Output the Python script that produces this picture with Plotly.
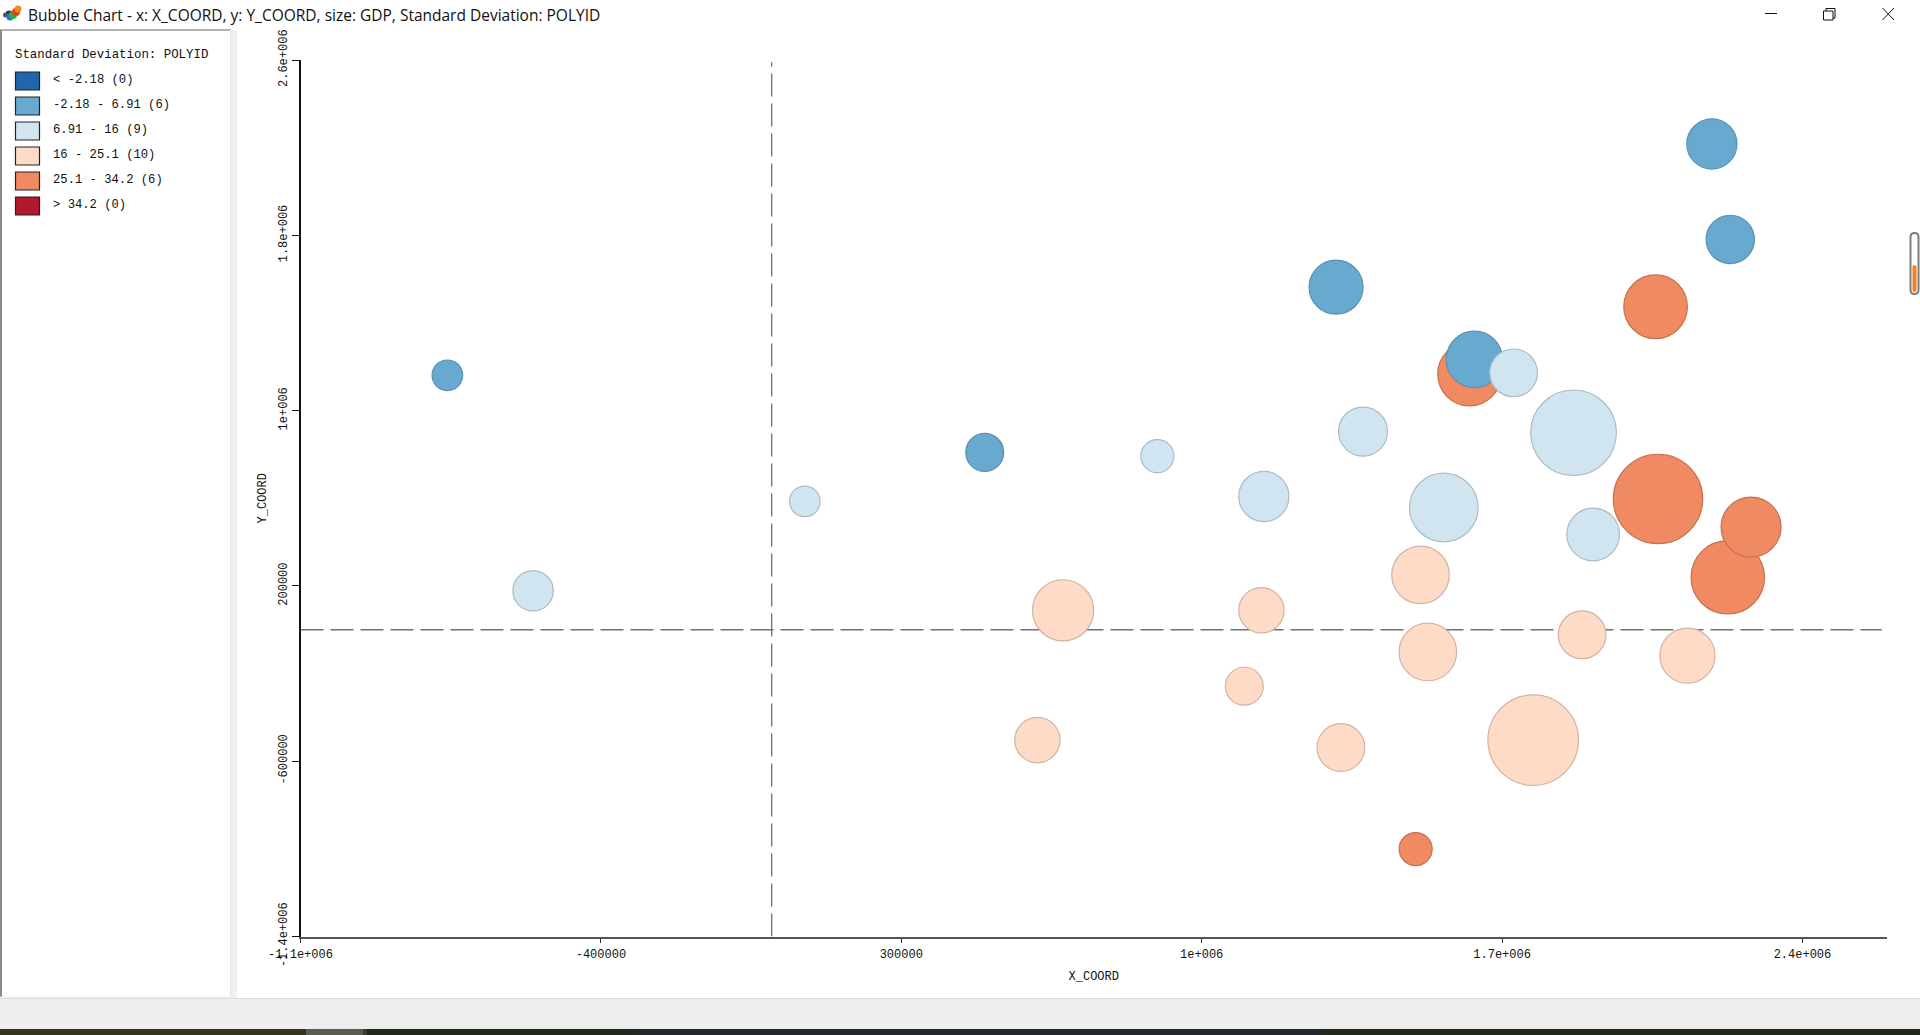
import plotly.graph_objects as go

W, H = 1920, 1035

window_title = "Bubble Chart - x: X_COORD, y: Y_COORD, size: GDP, Standard Deviation: POLYID"
legend_title = "Standard Deviation: POLYID"
legend_labels = ["< -2.18 (0)", "-2.18 - 6.91 (6)", "6.91 - 16 (9)", "16 - 25.1 (10)", "25.1 - 34.2 (6)", "> 34.2 (0)"]
legend_colors = ["#2166ac", "#67a9cf", "#d1e5f0", "#fddbc7", "#ef8a62", "#b2182b"]

x_tick_vals = [-1100000, -400000, 300000, 1000000, 1700000, 2400000]
x_tick_text = ["-1.1e+006", "-400000", "300000", "1e+006", "1.7e+006", "2.4e+006"]
y_tick_vals = [-1400000, -600000, 200000, 1000000, 1800000, 2600000]
y_tick_text = ["-1.4e+006", "-600000", "200000", "1e+006", "1.8e+006", "2.6e+006"]

mean_x = -2000
mean_y = 0

blue_x = [2188900, 2231700, 1313200, 1635500, -757700, 494500]
blue_y = [2216900, 1781200, 1563300, 1233700, 1161000, 809100]
blue_gdp = [16800, 15600, 19400, 21200, 6250, 9600]

light_x = [1726800, 1376000, 1866600, 896800, 75200, 1144900, 1564200, 1912200, -558000]
light_y = [1172200, 904100, 898500, 792300, 585600, 608000, 557700, 434800, 177800]
light_gdp = [15200, 16000, 49000, 7300, 6250, 16800, 31400, 18500, 10900]

peach_x = [1510000, 677100, 1139200, 1886600, 1527100, 2131900, 1099300, 617200, 1324600, 1772500]
peach_y = [250400, 88400, 88400, -23300, -101500, -118300, -257900, -503800, -537300, -503800]
peach_gdp = [22100, 25000, 13700, 15200, 22100, 20300, 9600, 13700, 15200, 54800]

orange_x = [2057700, 1624100, 2063400, 2226000, 2280200, 1498600]
orange_y = [1473900, 1166600, 596800, 239300, 468300, -1001000]
orange_gdp = [27000, 27000, 53300, 36000, 24000, 7300]

MONO = "Liberation Mono"
TEXT = "#111111"


def px(v):
    return v / W


def py(v):
    return 1 - v / H


def rect(x0, y0, x1, y1, fill, line=None, lw=1, layer="below"):
    return dict(type="rect", xref="paper", yref="paper", layer=layer,
                x0=px(x0), x1=px(x1), y0=py(y0), y1=py(y1), fillcolor=fill,
                line=dict(color=line, width=lw) if line else dict(width=0))


def seg(x0, y0, x1, y1, color, lw=1.2):
    return dict(type="line", xref="paper", yref="paper",
                x0=px(x0), x1=px(x1), y0=py(y0), y1=py(y1),
                line=dict(color=color, width=lw))


def dot(cx, cy, r, fill):
    return dict(type="circle", xref="paper", yref="paper",
                x0=px(cx - r), x1=px(cx + r), y0=py(cy - r), y1=py(cy + r),
                fillcolor=fill, line=dict(width=0))


def pill(x0, y0, x1, y1, r, fill, line=None, lw=1):
    a, b, c, d = px(x0), px(x1), py(y0), py(y1)
    ym0, ym1 = py(y0 + r), py(y1 - r)
    xm = (a + b) / 2
    path = (f"M {a} {ym0} Q {a} {c} {xm} {c} Q {b} {c} {b} {ym0} "
            f"L {b} {ym1} Q {b} {d} {xm} {d} Q {a} {d} {a} {ym1} Z")
    return dict(type="path", xref="paper", yref="paper", path=path, fillcolor=fill,
                line=dict(color=line, width=lw) if line else dict(width=0))


fig = go.Figure()

# mean lines sit beneath the bubbles
fig.add_trace(go.Scatter(x=[mean_x, mean_x], y=[-1400000, 2590000], mode="lines", hoverinfo="skip",
                         line=dict(color="#707070", width=1.3, dash="23px,7px")))
fig.add_trace(go.Scatter(x=[-1100000, 2585000], y=[mean_y, mean_y], mode="lines", hoverinfo="skip",
                         line=dict(color="#707070", width=1.3, dash="23px,7px")))

SIZEREF = 13.34
for xs, ys, gdp, fill, edge in [
    (peach_x, peach_y, peach_gdp, legend_colors[3], "#d2b3a3"),
    (orange_x, orange_y, orange_gdp, legend_colors[4], "#c8704f"),
    (blue_x, blue_y, blue_gdp, legend_colors[1], "#5a92b4"),
    (light_x, light_y, light_gdp, legend_colors[2], "#a9bcc8"),
]:
    fig.add_trace(go.Scatter(x=xs, y=ys, mode="markers",
                             marker=dict(size=gdp, sizemode="area", sizeref=SIZEREF, color=fill, opacity=1,
                                         line=dict(color=edge, width=1.2))))

shapes = [
    rect(0, 0, W, H, "#ffffff"),
    rect(0, 999, W, 1029, "#eeeeee"),
    seg(0, 998.5, W, 998.5, "#dcdcdc", 1),
    rect(0, 1029, 306, H, "#35351f"),
    rect(306, 1029, 363, H, "#5b5d4a"),
    rect(363, 1029, 367, H, "#3a3c2c"),
    rect(367, 1029, 637, H, "#22291a"),
    rect(637, 1029, 1322, H, "#23262e"),
    rect(1322, 1029, W, H, "#1f2a1a"),
    rect(231, 30, 237, 998, "#f0f0f0"),
    seg(1, 30, 1, 997, "#8a8a8a", 2),
    seg(0, 30, 231, 30, "#9a9a9a", 1.5),
    seg(230.5, 30, 230.5, 997, "#e4e4e4", 1),
    seg(0, 997, 231, 997, "#e4e4e4", 1),
    # window buttons
    seg(1765, 13.5, 1777, 13.5, "#111111", 1),
    dict(type="rect", xref="paper", yref="paper", x0=px(1823.5), x1=px(1833), y0=py(11), y1=py(20),
         fillcolor="#ffffff", line=dict(color="#111111", width=1)),
    seg(1826, 11, 1826, 8.5, "#111111", 1),
    seg(1826, 8.5, 1835, 8.5, "#111111", 1),
    seg(1835, 8.5, 1835, 18, "#111111", 1),
    seg(1835, 18, 1833, 18, "#111111", 1),
    seg(1882.5, 8, 1894, 20, "#111111", 1),
    seg(1894, 8, 1882.5, 20, "#111111", 1),
    # side handle
    pill(1910.5, 233, 1918.5, 294, 4, "#ffffff", "#7f7f7f", 2),
    pill(1912.5, 265, 1916.5, 292, 2, "#f58220"),
    # app icon
    dot(9, 14, 3.5, "#333333"),
    dot(5.5, 15, 2.5, "#555555"),
    dot(10, 17, 3.5, "#2f6fd0"),
    dot(13, 15, 4, "#22b04c"),
    dot(16, 12, 4, "#e04020"),
    dot(18, 9, 3.5, "#f08a20"),
]

annotations = [
    dict(text=window_title, x=px(25.5), y=py(14.5), xanchor="left", yanchor="middle",
         font=dict(family="Open Sans", size=15.5, color="#111111")),
    dict(text=legend_title, x=px(13), y=py(55), xanchor="left", yanchor="middle",
         font=dict(family=MONO, size=12.4, color=TEXT)),
]

for i, (label, color) in enumerate(zip(legend_labels, legend_colors)):
    top = 72 + i * 25
    shapes.append(rect(15.5, top, 39.5, top + 18, color, "#222222", 1.2))
    annotations.append(dict(text=label.replace("<", "&lt;"), x=px(50.5), y=py(top + 8.2), xanchor="left", yanchor="middle",
                            font=dict(family=MONO, size=12.2, color=TEXT)))

for a in annotations:
    a.update(xref="paper", yref="paper", showarrow=False)

fig.update_layout(
    width=W, height=H, autosize=False, showlegend=False,
    margin=dict(l=0, r=0, t=0, b=0, pad=0),
    paper_bgcolor="#ffffff", plot_bgcolor="rgba(0,0,0,0)",
    shapes=shapes, annotations=annotations,
    xaxis=dict(domain=[300.5 / W, 1887 / W], range=[-1100000, 2597000], showgrid=False, zeroline=False,
               tickmode="array", tickvals=x_tick_vals, ticktext=x_tick_text, ticks="outside", ticklen=5,
               tickwidth=1, tickcolor="#333333", showline=True, linecolor="#555555", linewidth=1.5,
               tickfont=dict(family=MONO, size=12, color=TEXT), automargin=False,
               title=dict(text="X_COORD", standoff=11, font=dict(family=MONO, size=12, color=TEXT))),
    yaxis=dict(domain=[1 - 936.5 / H, 1 - 60 / H], range=[-1400000, 2600000], showgrid=False, zeroline=False,
               tickmode="array", tickvals=y_tick_vals, ticktext=y_tick_text, ticks="outside", ticklen=7,
               tickwidth=1, tickcolor="#111111", showline=True, linecolor="#111111", linewidth=1.5,
               tickangle=-90, tickfont=dict(family=MONO, size=12, color=TEXT), automargin=False,
               title=dict(text="Y_COORD", standoff=8, font=dict(family=MONO, size=12, color=TEXT))),
)

fig.write_html("out.html", config=dict(displayModeBar=False),
               post_script="document.body.style.margin='0';document.body.style.overflow='hidden';")
